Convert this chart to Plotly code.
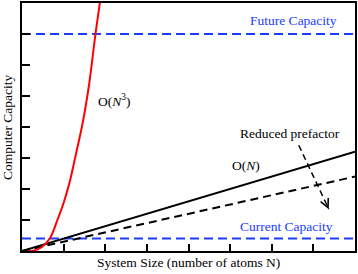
import plotly.graph_objects as go

# ---- data ----
x_range = [0, 8]
y_range = [0, 8]
tick_step = 1

linear_x = [0, 8]
linear_y = [0, 3.2]

reduced_x = [0, 8]
reduced_y = [0, 2.4]

cubic_x = [0.15, 0.30, 0.47, 0.67, 0.85, 1.00, 1.15, 1.30, 1.46, 1.62, 1.76, 1.88, 1.94]
cubic_y = [0.0, 0.02, 0.12, 0.41, 1.00, 1.55, 2.25, 3.15, 4.15, 5.45, 6.95, 8.1, 8.7]

future_capacity = 7.0
current_capacity = 0.4

arrow_x = [6.65, 7.37]
arrow_y = [3.41, 1.35]

label_text = ["Future Capacity", "Current Capacity", "Reduced prefactor", "O(<i>N</i>)", "O(<i>N</i><sup>3</sup>)"]
label_x = [6.52, 6.35, 6.45, 5.37, 2.22]
label_y = [7.45, 0.78, 3.79, 2.76, 4.87]
label_color = ["#2040ff", "#2040ff", "black", "black", "black"]

x_title = "System Size (number of atoms N)"
y_title = "Computer Capacity"

BLUE = "#1a3cff"
FONT = "Liberation Serif, Times New Roman, serif"
FS = 13.5

fig = go.Figure()

fig.add_trace(go.Scatter(x=x_range, y=[future_capacity] * 2, mode="lines",
                         line=dict(color=BLUE, width=2, dash="9px,5px"), showlegend=False))
fig.add_trace(go.Scatter(x=x_range, y=[current_capacity] * 2, mode="lines",
                         line=dict(color=BLUE, width=2, dash="9px,5px"), showlegend=False))
fig.add_trace(go.Scatter(x=reduced_x, y=reduced_y, mode="lines",
                         line=dict(color="black", width=2, dash="8px,5px"), showlegend=False))
fig.add_trace(go.Scatter(x=linear_x, y=linear_y, mode="lines",
                         line=dict(color="black", width=2), showlegend=False))
fig.add_trace(go.Scatter(x=cubic_x, y=cubic_y, mode="lines",
                         line=dict(color="red", width=2, shape="spline", smoothing=1.0),
                         showlegend=False))
fig.add_trace(go.Scatter(x=arrow_x, y=arrow_y, mode="lines",
                         line=dict(color="black", width=1.5, dash="6px,4px"), showlegend=False))

W, H = 358, 274
ml, mr, mt, mb = 22, 1, 1, 23
pw = W - ml - mr
ph = H - mt - mb
sx = pw / (x_range[1] - x_range[0])
sy = ph / (y_range[1] - y_range[0])
dx = (arrow_x[1] - arrow_x[0]) * sx
dy = (arrow_y[0] - arrow_y[1]) * sy
n = (dx * dx + dy * dy) ** 0.5
L = 5

annotations = [
    dict(x=arrow_x[1], y=arrow_y[1], xref="x", yref="y", showarrow=True,
         ax=-dx / n * L, ay=-dy / n * L, arrowhead=5, arrowsize=1.1, arrowwidth=1.5,
         arrowcolor="black", text="")
]
for t, x, y, c in zip(label_text, label_x, label_y, label_color):
    annotations.append(dict(x=x, y=y, xref="x", yref="y", text=t, showarrow=False,
                            font=dict(family=FONT, size=FS, color=c),
                            xanchor="center", yanchor="middle"))
annotations.append(dict(x=0.5, y=(0 - 12) / ph, xref="paper", yref="paper", text=x_title,
                        showarrow=False, font=dict(family=FONT, size=FS, color="black"),
                        xanchor="center", yanchor="middle"))
annotations.append(dict(x=-15 / pw, y=0.5, xref="paper", yref="paper", text=y_title,
                        showarrow=False, textangle=-90,
                        font=dict(family=FONT, size=FS, color="black"),
                        xanchor="center", yanchor="middle"))

axis_common = dict(showgrid=False, zeroline=False, showline=True, mirror=True,
                   linecolor="black", linewidth=1.5, ticks="inside", tickwidth=1.5,
                   tickcolor="black", showticklabels=False, dtick=tick_step, tick0=0)

fig.update_layout(
    width=W, height=H,
    margin=dict(l=ml, r=mr, t=mt, b=mb, pad=0),
    paper_bgcolor="white", plot_bgcolor="white",
    xaxis=dict(range=x_range, ticklen=7, **axis_common),
    yaxis=dict(range=y_range, ticklen=8, **axis_common),
    annotations=annotations,
    font=dict(family=FONT),
)

fig.write_html("out.html", config={"displayModeBar": False},
               post_script="document.body.style.margin='0';")
